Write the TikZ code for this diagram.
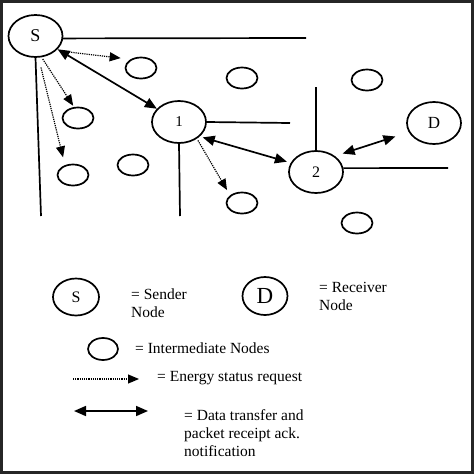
\documentclass[tikz,border=0pt]{standalone}
\usepackage{fontspec}
\setmainfont{Liberation Serif}
\usetikzlibrary{shapes.geometric,arrows.meta}

\begin{document}
\begin{tikzpicture}[x=1pt,y=-1pt,
  nd/.style={draw,ellipse,line width=1.7pt,inner sep=0pt,minimum width=54pt,minimum height=42pt},
  im/.style={draw,ellipse,line width=1.7pt,inner sep=0pt,minimum width=31pt,minimum height=21pt},
  wall/.style={line width=1.7pt},
  req/.style={densely dotted,line width=1.2pt,-{Triangle[length=11pt,width=9pt]}},
  dat/.style={line width=1.7pt,{Triangle[length=12pt,width=10pt]}-{Triangle[length=12pt,width=10pt]}},
  lbl/.style={font=\fontsize{15.5}{18}\selectfont,align=left,inner sep=0pt,anchor=west}]
  \useasboundingbox (0,0) rectangle (474,474);
  \draw[line width=3pt,black!85] (1.5,1.5) rectangle (472.5,472.5);

  % network
  \node[nd,font=\fontsize{18}{18}\selectfont] (S) at (35.5,36) {S};
  \node[nd,font=\fontsize{15}{15}\selectfont] (n1) at (179,122) {1};
  \node[nd,font=\fontsize{16}{16}\selectfont] (n2) at (316,172) {2};
  \node[nd,font=\fontsize{17}{17}\selectfont] (D) at (434,123) {D};
  \node[im] (i1) at (141,68) {};
  \node[im] (i2) at (78,118) {};
  \node[im] (i3) at (73,175) {};
  \node[im] (i4) at (133,165) {};
  \node[im] (i5) at (242,203) {};
  \node[im] (i6) at (242,78) {};
  \node[im] (i7) at (367,80) {};
  \node[im] (i8) at (357,223) {};

  \coordinate (wS1) at (306,38);
  \coordinate (wS2) at (41,216);
  \coordinate (w11) at (290,123);
  \coordinate (w12) at (180,216);
  \coordinate (w21) at (316,87);
  \coordinate (w22) at (448,168);
  \draw[wall] (S.-5) -- (wS1);
  \draw[wall] (S.south) -- (wS2);
  \draw[wall] (n1.east) -- (w11);
  \draw[wall] (n1.south) -- (w12);
  \draw[wall] (n2.north) -- (w21);
  \draw[wall] (n2.8) -- (w22);

  \draw[dat] (S) -- (n1);
  \draw[dat,shorten <=3pt,shorten >=4pt] (n1.-35) -- (n2.160);
  \draw[dat,shorten <=8pt,shorten >=14pt] (n2.40) -- (D.200);
  \draw[req,shorten <=4pt,shorten >=10pt] (S.-35) -- (i1.140);
  \draw[req,shorten <=2pt,shorten >=1.5pt] (S.-74) -- (i2.110);
  \draw[req,shorten <=10pt,shorten >=8pt] (S.-82) -- (i3.129);
  \draw[req,shorten <=2pt,shorten >=6pt] (n1.-43) -- (i5.147);

  % legend
  \node[nd,minimum width=46pt,minimum height=37pt,font=\fontsize{16}{16}\selectfont] (LS) at (76,297) {S};
  \node[nd,minimum width=45pt,minimum height=38pt,font=\fontsize{23}{23}\selectfont] (LD) at (265,296) {D};
  \node[lbl] (tS) at (131,303) {= Sender\\Node};
  \node[lbl] (tD) at (319,296) {= Receiver\\Node};
  \node[im,minimum width=30pt,minimum height=22pt] (Li) at (103,349) {};
  \node[lbl] (ti) at (135,348) {= Intermediate Nodes};
  \coordinate (r1) at (73,379);
  \coordinate (r2) at (139,379);
  \draw[req] (r1) -- (r2);
  \node[lbl] (tr) at (157,378) {= Energy status request};
  \coordinate (d1) at (74,411);
  \coordinate (d2) at (148,411);
  \draw[dat] (d1) -- (d2);
  \node[lbl] (td) at (184,433) {= Data transfer and\\packet receipt ack.\\notification};
\end{tikzpicture}
\end{document}
